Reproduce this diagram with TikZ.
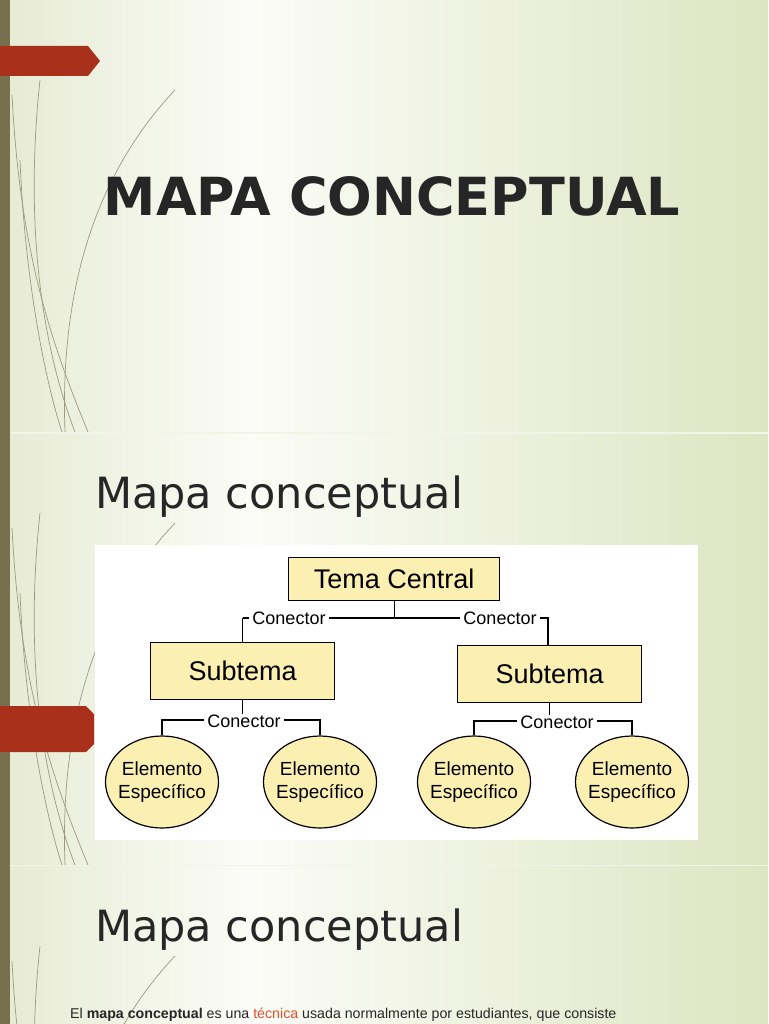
\documentclass[tikz,border=0pt]{standalone}
\usepackage{fontspec}
\setmainfont{DejaVu Sans}
\newfontfamily\arialf{Liberation Sans}
\usetikzlibrary{shapes.geometric}
\definecolor{bgL}{HTML}{E6EBD3}
\definecolor{bgW}{HTML}{FBFCF7}
\definecolor{bgR}{HTML}{DDE5C2}
\definecolor{barc}{HTML}{77704F}
\definecolor{tabc}{HTML}{A9311B}
\definecolor{boxy}{HTML}{FBEFB2}
\definecolor{curvec}{HTML}{9A9A80}
\definecolor{txt}{HTML}{262626}
\definecolor{redt}{HTML}{E0502A}
\tikzset{
 topic/.style={draw=black,line width=1.2pt,fill=boxy,inner sep=0pt,anchor=north west},
 toptext/.style={font=\arialf\fontsize{27}{27}\selectfont},
 elem/.style={ellipse,draw=black,line width=1.2pt,fill=boxy,minimum width=113pt,minimum height=92pt,inner sep=0pt},
 elemtext/.style={align=center,font=\arialf\fontsize{19}{23}\selectfont,inner sep=0pt},
 conn/.style={font=\arialf\fontsize{18}{18}\selectfont,inner xsep=3pt,inner ysep=1pt,fill=white},
 link/.style={line width=1.2pt,black},
 deco/.style={curvec,line width=0.7pt}
}
\begin{document}
\begin{tikzpicture}[x=1pt,y=-1pt]
\useasboundingbox (0,0) rectangle (768,1024);
% backgrounds
\foreach \a/\b in {0/432,433/865,866/1024}{
 \shade[left color=bgL,right color=bgW] (0,\a) rectangle (250,\b);
 \shade[left color=bgW,right color=bgR] (250,\a) rectangle (768,\b);
}
\fill[white!60!bgR] (0,432) rectangle (768,433.5);
\fill[white!60!bgR] (0,864.5) rectangle (768,866);
\fill[barc] (0,0) rectangle (10,1024);
% decorative curves
\foreach \o in {0,433,866}{
 \draw[deco] (12,\o+95) .. controls (20,\o+250) and (50,\o+340) .. (88,\o+432);
 \draw[deco] (40,\o+80) .. controls (25,\o+220) and (40,\o+340) .. (75,\o+432);
 \draw[deco] (175,\o+90) .. controls (90,\o+180) and (60,\o+300) .. (65,\o+432);
 \draw[deco] (20,\o+160) .. controls (25,\o+280) and (45,\o+380) .. (62,\o+432);
}
% red tabs
\fill[tabc] (0,46) -- (88,46) -- (100,61) -- (88,76) -- (0,76) -- cycle;
\fill[tabc] (0,706) -- (86,706) -- (94,714) -- (94,744) -- (86,752) -- (0,752) -- cycle;
% titles
\node[font=\bfseries\fontsize{52.5}{52.5}\selectfont,text=txt] (title) at (392,196) {MAPA CONCEPTUAL};
\node[font=\fontsize{43}{43}\selectfont,text=txt,anchor=base west,inner sep=0pt] (h1) at (95,508) {Mapa conceptual};
\node[font=\fontsize{43}{43}\selectfont,text=txt,anchor=base west,inner sep=0pt] (h2) at (95,941) {Mapa conceptual};
% diagram
\fill[white] (95,545) rectangle (698,840);
\node[topic,minimum width=211pt,minimum height=43pt] (tc) at (288,557) {};
\node[toptext] at (tc.center) {Tema Central};
\node[topic,minimum width=184pt,minimum height=57pt] (s1) at (150,642) {};
\node[toptext] at (s1.center) {Subtema};
\node[topic,minimum width=184pt,minimum height=57pt] (s2) at (457,645) {};
\node[toptext] at (s2.center) {Subtema};
\foreach \n/\x in {e1/162,e2/320,e3/474,e4/632}{
 \node[elem] (\n) at (\x,782) {};
 \node[elemtext] at (\n.center) {Elemento\\Específico};
}
\coordinate (j0) at (tc.south |- 0,618);
\coordinate (l1) at (s1.north |- 0,618);
\coordinate (r1) at (548,618);
\draw[link] (tc.south) -- (j0);
\draw[link] (l1) -- (s1.north);
\draw[link] (l1) -- (r1) -- (r1 |- s2.north);
\node[conn] (c1) at (289,618) {Conector};
\node[conn] (c2) at (500,618) {Conector};
\coordinate (m1) at (s1.south |- 0,720);
\coordinate (m2) at (s2.south |- 0,721);
\draw[link] (s1.south) -- (m1);
\draw[link] (e1.north) -- (e1.north |- m1) -- (e2.north |- m1) -- (e2.north);
\draw[link] (s2.south) -- (m2);
\draw[link] (e3.north) -- (e3.north |- m2) -- (e4.north |- m2) -- (e4.north);
\node[conn] (c3) at (244,721) {Conector};
\node[conn] (c4) at (557,722) {Conector};
% bottom text
\node[font=\arialf\fontsize{14.2}{14.2}\selectfont,anchor=base west,inner sep=0pt,text=txt] (bt) at (70,1018) {El \textbf{mapa conceptual} es una \textcolor{redt}{técnica} usada normalmente por estudiantes, que consiste};
\end{tikzpicture}
\end{document}
